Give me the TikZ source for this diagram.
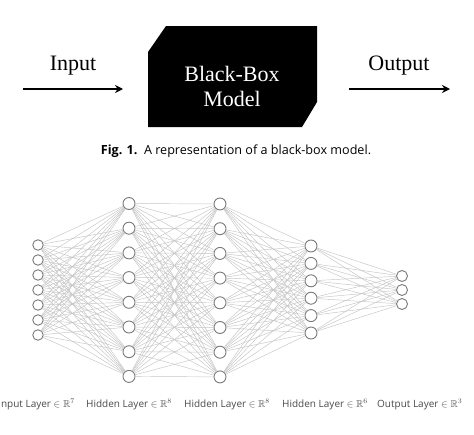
\documentclass[tikz,border=0pt]{standalone}
\usepackage{amssymb}
\usepackage{fontspec}
\setmainfont{Liberation Serif}
\newfontfamily\capfont{Open Sans}
\usetikzlibrary{arrows.meta}
\definecolor{edgegray}{HTML}{C4C4C4}
\definecolor{nodegray}{HTML}{7A7A7A}
\definecolor{lblgray}{HTML}{4A4A4A}
\tikzset{
  neu/.style={circle,draw=nodegray,line width=0.9pt,fill=white,inner sep=0pt},
  edge/.style={draw=edgegray,line width=0.45pt},
  bigarrow/.style={line width=1.3pt,-{Stealth[length=8pt,width=8pt]}},
  lbl/.style={font=\capfont\fontsize{10}{12}\selectfont,text=lblgray,inner sep=0pt},
  serifbig/.style={font=\fontsize{22}{25}\selectfont,inner sep=0pt}
}
\begin{document}
\begin{tikzpicture}[x=1pt,y=-1pt]
\useasboundingbox (0,0) rectangle (474,434);
% black box
\fill[black] (148,52) -- (166,26) -- (317,26) -- (317,102) -- (302,127) -- (148,127) -- cycle;
\node[serifbig,text=white,align=center] (bb) at (232,86) {Black-Box\\[0pt]Model};
\node[serifbig,anchor=base] (inp) at (73,70) {Input};
\node[serifbig,anchor=base] (outp) at (399,70) {Output};
\coordinate (i0) at (23,89);
\coordinate (i1) at (123,89);
\coordinate (o0) at (349,89);
\coordinate (o1) at (450,89);
\draw[bigarrow] (i0) -- (i1);
\draw[bigarrow] (o0) -- (o1);
\node[font=\capfont\fontsize{12.6}{14}\selectfont,anchor=base,inner sep=0pt] (cap) at (236,154) {\textbf{Fig. 1.}\ \ A representation of a black-box model.};
% network nodes
\foreach \i in {1,...,7} \node[neu,minimum size=10.5pt] (a\i) at (38,{245+15*(\i-1)}) {};
\foreach \i in {1,...,8} \node[neu,minimum size=12pt] (b\i) at (129,{203.5+24.7*(\i-1)}) {};
\foreach \i in {1,...,8} \node[neu,minimum size=12pt] (c\i) at (220,{204+24.7*(\i-1)}) {};
\foreach \i in {1,...,6} \node[neu,minimum size=12pt] (d\i) at (311,{246+17.4*(\i-1)}) {};
\foreach \i in {1,...,3} \node[neu,minimum size=11pt] (e\i) at (402,{276+14*(\i-1)}) {};
% edges
\foreach \i in {1,...,7} \foreach \j in {1,...,8} \draw[edge] (a\i) -- (b\j);
\foreach \i in {1,...,8} \foreach \j in {1,...,8} \draw[edge] (b\i) -- (c\j);
\foreach \i in {1,...,8} \foreach \j in {1,...,6} \draw[edge] (c\i) -- (d\j);
\foreach \i in {1,...,6} \foreach \j in {1,...,3} \draw[edge] (d\i) -- (e\j);
% labels
\node[lbl,anchor=base east] (l1) at (75,407) {Input Layer $\in\mathbb{R}^{7}$};
\node[lbl,anchor=base west] (l2) at (86,407) {Hidden Layer $\in\mathbb{R}^{8}$};
\node[lbl,anchor=base west] (l3) at (184,407) {Hidden Layer $\in\mathbb{R}^{8}$};
\node[lbl,anchor=base west] (l4) at (282,407) {Hidden Layer $\in\mathbb{R}^{6}$};
\node[lbl,anchor=base west] (l5) at (377,407) {Output Layer $\in\mathbb{R}^{3}$};
\end{tikzpicture}
\end{document}
